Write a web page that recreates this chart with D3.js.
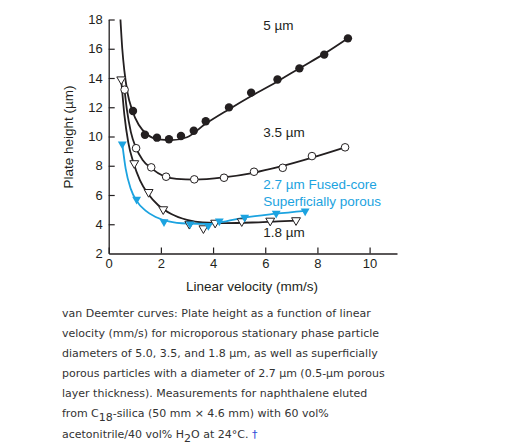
<!DOCTYPE html>
<html>
<head>
<meta charset="utf-8">
<script src="https://cdn.jsdelivr.net/npm/d3@7"></script>
<style>
  body { margin: 0; background: #fff; }
  svg { display: block; }
</style>
</head>
<body>
<div id="chart"></div>
<script>
// van Deemter curves (velocity mm/s, plate height um)

// measured points
const pts5 = [[0.93, 11.74], [1.39, 10.12], [1.85, 9.92], [2.31, 9.81], [2.77, 10.03], [3.26, 10.39], [3.72, 11.04],
  [4.61, 11.99], [5.46, 13.0], [6.47, 13.9], [7.31, 14.66], [8.26, 15.6], [9.17, 16.71]];
const pts35 = [[0.61, 13.2], [1.05, 9.2], [1.63, 7.89], [2.2, 7.25], [3.28, 7.07], [4.42, 7.18], [5.57, 7.59],
  [6.67, 7.86], [7.79, 8.66], [9.06, 9.26]];
const pts18 = [[0.48, 13.9], [0.98, 8.17], [1.53, 6.2], [2.09, 5.02], [3.09, 4.02], [3.63, 3.72], [4.08, 4.1],
  [5.1, 4.2], [6.19, 4.24], [7.18, 4.27]];
const pts27 = [[0.52, 9.48], [1.07, 5.7], [2.12, 4.17], [3.12, 4.02], [3.82, 3.9], [4.24, 4.22], [5.21, 4.47],
  [6.42, 4.75], [7.53, 4.9]];

// fitted curves as drawn in the figure
const fit5 = [[0.45, 18], [0.52, 16], [0.6, 14.5], [0.72, 13], [0.9, 11.8], [1.15, 10.8], [1.5, 10.1], [1.9, 9.8],
  [2.4, 9.75], [3, 9.95], [3.7, 10.85], [4.6, 11.85], [5.5, 12.8], [6.5, 13.8], [7.3, 14.65], [8.3, 15.7], [9.17, 16.72]];
const fit35 = [[0.6, 13.3], [0.7, 11.8], [0.85, 10.3], [1.05, 9.2], [1.3, 8.4], [1.65, 7.8], [2.1, 7.3], [2.6, 7.1],
  [3.3, 7.05], [4.4, 7.2], [5.5, 7.5], [6.6, 7.95], [7.8, 8.55], [9.06, 9.25]];
const fit18 = [[0.48, 13.9], [0.6, 11.5], [0.75, 9.6], [0.95, 8.2], [1.2, 7.0], [1.5, 6.1], [1.9, 5.3], [2.4, 4.7],
  [3, 4.3], [3.6, 4.12], [4.5, 4.08], [5.5, 4.12], [6.5, 4.2], [7.2, 4.25]];
const fit27 = [[0.52, 9.5], [0.65, 7.8], [0.85, 6.4], [1.07, 5.6], [1.4, 4.95], [1.8, 4.5], [2.3, 4.2], [3, 4.05],
  [3.8, 4.02], [4.5, 4.2], [5.2, 4.45], [6.4, 4.72], [7.55, 4.92]];

const xTicks = [0, 2, 4, 6, 8, 10];
const yTicks = [2, 4, 6, 8, 10, 12, 14, 16, 18];

const labels = [
  { text: "5 \u00b5m", v: 5.92, h: 17.3, color: "#231f20" },
  { text: "3.5 \u00b5m", v: 5.92, h: 9.96, color: "#231f20" },
  { text: "2.7 \u00b5m Fused-core", v: 5.92, h: 6.41, color: "#1ca3e0" },
  { text: "Superficially porous", v: 5.92, h: 5.25, color: "#1ca3e0" },
  { text: "1.8 \u00b5m", v: 5.92, h: 3.13, color: "#231f20" }
];

const caption = [
  "van Deemter curves: Plate height as a function of linear",
  "velocity (mm/s) for microporous stationary phase particle",
  "diameters of 5.0, 3.5, and 1.8 \u00b5m, as well as superficially",
  "porous particles with a diameter of 2.7 \u00b5m (0.5-\u00b5m porous",
  "layer thickness). Measurements for naphthalene eluted"
];

const blue = "#1ca3e0";
const ink = "#231f20";

const svg = d3.select("#chart").append("svg")
  .attr("width", 508)
  .attr("height", 445);

const x = d3.scaleLinear().domain([0, 11.05]).range([108.7, 397]);
const y = d3.scaleLinear().domain([2, 18]).range([253.5, 19.5]);

// axes, ticks pointing inward
const xAxis = svg.append("g")
  .attr("transform", `translate(0,${y(2)})`)
  .call(d3.axisBottom(x).tickValues(xTicks).tickSizeInner(-6).tickSizeOuter(0).tickPadding(5));
const yAxis = svg.append("g")
  .attr("transform", `translate(${x(0)},0)`)
  .call(d3.axisLeft(y).tickValues(yTicks).tickSizeInner(-6).tickSizeOuter(0).tickPadding(6));

[xAxis, yAxis].forEach(g => {
  g.select(".domain").attr("stroke", ink).attr("stroke-width", 1.3);
  g.selectAll(".tick line").attr("stroke", ink).attr("stroke-width", 1.2);
  g.selectAll(".tick text").attr("fill", ink)
    .style("font-family", "'Liberation Sans', Arial, sans-serif").style("font-size", "13px");
});
yAxis.selectAll(".tick").filter(d => d == 2).select("line").remove();

svg.append("text")
  .attr("x", 252).attr("y", 291)
  .attr("text-anchor", "middle")
  .attr("fill", ink)
  .style("font-family", "'Liberation Sans', Arial, sans-serif").style("font-size", "13.5px")
  .text("Linear velocity (mm/s)");

svg.append("text")
  .attr("transform", "translate(73,137) rotate(-90)")
  .attr("text-anchor", "middle")
  .attr("fill", ink)
  .style("font-family", "'Liberation Sans', Arial, sans-serif").style("font-size", "13.5px")
  .text("Plate height (\u00b5m)");

// curves
const line = d3.line().x(d => x(d[0])).y(d => y(d[1])).curve(d3.curveMonotoneX);
[[fit5, ink], [fit35, ink], [fit18, ink], [fit27, blue]].forEach(([d, c]) => {
  svg.append("path").datum(d)
    .attr("d", line)
    .attr("fill", "none")
    .attr("stroke", c)
    .attr("stroke-width", 1.8);
});

// markers
svg.append("g").selectAll("circle").data(pts5).join("circle")
  .attr("cx", d => x(d[0])).attr("cy", d => y(d[1])).attr("r", 4.2)
  .attr("fill", ink);

svg.append("g").selectAll("circle").data(pts35).join("circle")
  .attr("cx", d => x(d[0])).attr("cy", d => y(d[1])).attr("r", 3.8)
  .attr("fill", "#fff").attr("stroke", ink).attr("stroke-width", 1);

const tri = d3.symbol(d3.symbolTriangle, 34);
svg.append("g").selectAll("path").data(pts18).join("path")
  .attr("d", tri)
  .attr("transform", d => `translate(${x(d[0])},${y(d[1])}) rotate(180)`)
  .attr("fill", "#fff").attr("stroke", ink).attr("stroke-width", 1);

svg.append("g").selectAll("path").data(pts27).join("path")
  .attr("d", tri)
  .attr("transform", d => `translate(${x(d[0])},${y(d[1])}) rotate(180)`)
  .attr("fill", blue);

// series labels
svg.append("g").selectAll("text").data(labels).join("text")
  .attr("x", d => x(d.v)).attr("y", d => y(d.h))
  .attr("fill", d => d.color)
  .style("font-family", "'Liberation Sans', Arial, sans-serif").style("font-size", "13.5px")
  .text(d => d.text);

// caption below the figure
const cap = svg.append("g")
  .attr("fill", "#333")
  .style("font-family", "'DejaVu Sans', Verdana, sans-serif")
  .style("font-size", "11px");

cap.selectAll("text.plain").data(caption).join("text")
  .attr("class", "plain")
  .attr("x", 62).attr("y", (d, i) => 317 + i * 20)
  .text(d => d);

const l6 = cap.append("text").attr("x", 62).attr("y", 417);
l6.append("tspan").text("from C");
l6.append("tspan").attr("dy", 3.5).text("18");
l6.append("tspan").attr("dy", -3.5).text("-silica (50 mm \u00d7 4.6 mm) with 60 vol%");

const l7 = cap.append("text").attr("x", 62).attr("y", 438);
l7.append("tspan").text("acetonitrile/40 vol% H");
l7.append("tspan").attr("dy", 3.5).text("2");
l7.append("tspan").attr("dy", -3.5).text("O at 24\u00b0C. ");
l7.append("tspan").attr("fill", "#2a4bd7").text("\u2020");
</script>
</body>
</html>
